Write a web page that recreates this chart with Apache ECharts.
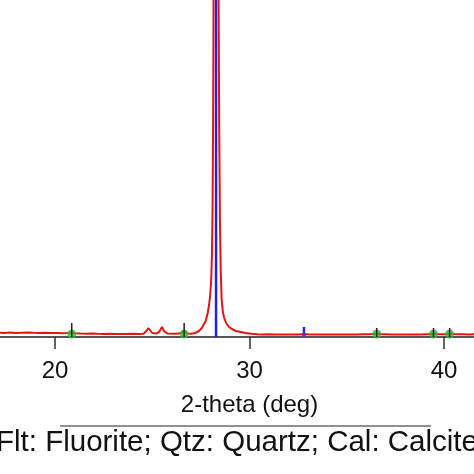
<!DOCTYPE html>
<html>
<head>
<meta charset="utf-8">
<script src="https://cdn.jsdelivr.net/npm/echarts@6/dist/echarts.min.js"></script>
<style>
  html, body { margin: 0; padding: 0; background: #fff; }
  #chart { width: 474px; height: 474px; }
</style>
</head>
<body>
<div id="chart"></div>
<script>
// XRD pattern: 2-theta (deg) vs intensity (arbitrary, ~10 counts per px)
const twoTheta = [
  17.1, 17.4, 17.7, 18.0, 18.3, 18.6, 18.9, 19.2, 19.5, 19.8, 20.1, 20.4, 20.7, 20.86, 21.0,
  21.3, 21.6, 21.9, 22.2, 22.5, 22.8, 23.1, 23.4, 23.7, 24.0, 24.3, 24.55, 24.7, 24.8, 24.9,
  25.0, 25.2, 25.35, 25.5, 25.62, 25.8, 26.1, 26.4, 26.64, 26.8, 27.0, 27.2, 27.4, 27.55, 27.65,
  27.75, 27.85, 27.92, 27.98, 28.03, 28.07, 28.10, 28.13, 28.16, 28.20, 28.27, 28.34, 28.40, 28.44, 28.48,
  28.52, 28.57, 28.63, 28.70, 28.80, 28.95, 29.10, 29.30, 29.55, 29.80, 30.1, 30.4, 30.7, 31.0, 31.3,
  31.6, 31.9, 32.2, 32.5, 32.8, 33.1, 33.4, 33.7, 34.0, 34.3, 34.6, 34.9, 35.2, 35.5, 35.8,
  36.1, 36.4, 36.55, 36.7, 37.0, 37.3, 37.6, 37.9, 38.2, 38.5, 38.8, 39.1, 39.3, 39.46, 39.6,
  39.9, 40.1, 40.29, 40.45, 40.7, 41.0, 41.3, 41.7
];
const intensity = [
  42, 40, 44, 41, 43, 45, 42, 40, 43, 41, 40, 38, 40, 44, 38,
  34, 33, 35, 32, 31, 33, 30, 31, 30, 32, 31, 33, 60, 90, 70,
  40, 35, 50, 100, 55, 34, 33, 34, 55, 36, 33, 40, 60, 90, 110,
  160, 240, 320, 420, 570, 820, 1270, 2170, 3870, 6000, 9000, 6000, 3870, 2170, 1170,
  670, 370, 250, 190, 140, 100, 80, 60, 50, 40, 32, 28, 26, 27, 25,
  26, 24, 25, 26, 30, 25, 24, 26, 25, 24, 26, 25, 24, 26, 28,
  27, 30, 36, 28, 27, 25, 26, 24, 25, 26, 25, 27, 28, 34, 29,
  27, 28, 35, 29, 27, 28, 26, 27
];

// reference peak positions (Qtz: quartz, Flt: fluorite)
const qtzPos    = [20.86, 26.64, 36.54, 39.46, 40.29];
const qtzHeight = [140, 140, 90, 90, 90];
const fltPos    = [28.28, 32.80];
const fltHeight = [3370, 100];
const markBase  = 30;

const xTicks = { min: 10, max: 50, step: 10 };
const yMax = 3370;

const FONT = "'Liberation Sans', Arial, sans-serif";

function stickSeries(pos, height, color, width, z) {
  return {
    type: 'custom', z: z, silent: true,
    data: pos.map((p, i) => [p, height[i]]),
    renderItem: (params, api) => {
      const a = api.coord([api.value(0), 0]);
      const b = api.coord([api.value(0), api.value(1)]);
      return {
        type: 'line',
        shape: { x1: a[0], y1: a[1], x2: b[0], y2: b[1] },
        style: { stroke: color, lineWidth: width }
      };
    }
  };
}

const chart = echarts.init(document.getElementById('chart'), null, { renderer: 'canvas' });

chart.setOption({
  backgroundColor: '#fff',
  animation: false,
  grid: { left: -139.5, top: 0, width: 778, height: 337, outerBoundsMode: 'none' },
  xAxis: {
    type: 'value', min: xTicks.min, max: xTicks.max, interval: xTicks.step,
    name: '2-theta (deg)', nameLocation: 'middle', nameGap: 56,
    nameTextStyle: { color: '#111', fontSize: 24, fontFamily: FONT },
    axisLine: { lineStyle: { color: '#555', width: 2 } },
    axisTick: { length: 12, lineStyle: { color: '#333', width: 1.5 } },
    axisLabel: { margin: 22, color: '#111', fontSize: 24, fontFamily: FONT },
    splitLine: { show: false }
  },
  yAxis: { type: 'value', min: 0, max: yMax, show: false },
  series: [
    {
      type: 'line', z: 2, symbol: 'none',
      data: twoTheta.map((t, i) => [t, intensity[i]]),
      lineStyle: { color: '#ee1111', width: 2 }
    },
    stickSeries(fltPos, fltHeight, '#2222dd', 2.5, 3),
    {
      type: 'scatter', z: 4, symbol: 'circle', symbolSize: 9,
      data: qtzPos.map(p => [p, markBase]),
      itemStyle: { color: '#2fb52f' }
    },
    {
      type: 'scatter', z: 4, symbol: 'triangle', symbolSize: 6,
      data: fltPos.slice(1).map(p => [p, markBase]),
      itemStyle: { color: '#5a3fc0' }
    },
    stickSeries(qtzPos, qtzHeight, '#222', 1.5, 5)
  ],
  graphic: [
    { type: 'line', shape: { x1: 60, y1: 426, x2: 431, y2: 426 }, style: { stroke: '#222', lineWidth: 1 } },
    {
      type: 'text', left: -4, top: 428,
      style: { text: 'Flt: Fluorite; Qtz: Quartz; Cal: Calcite', fill: '#111', fontSize: 29.5, fontFamily: FONT }
    }
  ]
});
</script>
</body>
</html>
